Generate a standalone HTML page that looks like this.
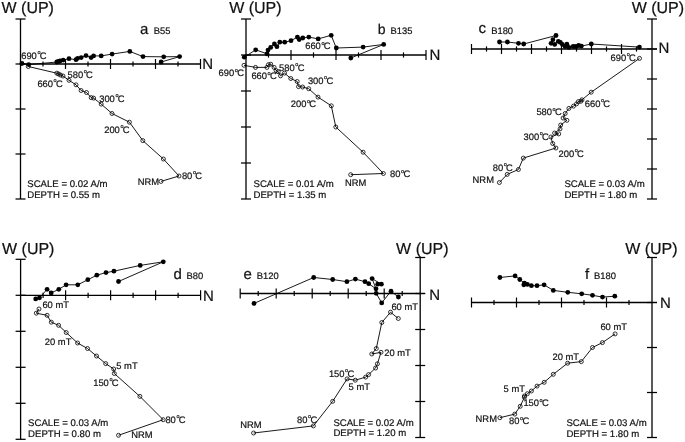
<!DOCTYPE html>
<html><head><meta charset="utf-8"><title>Zijderveld diagrams</title>
<style>
html,body{margin:0;padding:0;background:#fff;}
svg{display:block;text-rendering:geometricPrecision;font-family:'Liberation Sans', Arial, Helvetica, sans-serif;}
</style></head><body>
<svg width="685" height="442" viewBox="0 0 685 442">
<rect width="685" height="442" fill="#fff"/>
<line x1="20.5" y1="19.0" x2="20.5" y2="199.0" stroke="#000" stroke-width="1.3"/>
<line x1="15.5" y1="19.0" x2="25.5" y2="19.0" stroke="#000" stroke-width="1.25"/>
<line x1="15.5" y1="64.0" x2="25.5" y2="64.0" stroke="#000" stroke-width="1.25"/>
<line x1="15.5" y1="109.0" x2="25.5" y2="109.0" stroke="#000" stroke-width="1.25"/>
<line x1="15.5" y1="154.0" x2="25.5" y2="154.0" stroke="#000" stroke-width="1.25"/>
<line x1="15.5" y1="199.0" x2="25.5" y2="199.0" stroke="#000" stroke-width="1.25"/>
<line x1="20.5" y1="64.0" x2="200.5" y2="64.0" stroke="#000" stroke-width="1.3"/>
<line x1="43.0" y1="61.4" x2="43.0" y2="66.6" stroke="#000" stroke-width="1.2"/>
<line x1="65.5" y1="59.0" x2="65.5" y2="69.0" stroke="#000" stroke-width="1.2"/>
<line x1="88.0" y1="61.4" x2="88.0" y2="66.6" stroke="#000" stroke-width="1.2"/>
<line x1="110.5" y1="59.0" x2="110.5" y2="69.0" stroke="#000" stroke-width="1.2"/>
<line x1="133.0" y1="61.4" x2="133.0" y2="66.6" stroke="#000" stroke-width="1.2"/>
<line x1="155.5" y1="59.0" x2="155.5" y2="69.0" stroke="#000" stroke-width="1.2"/>
<line x1="178.0" y1="61.4" x2="178.0" y2="66.6" stroke="#000" stroke-width="1.2"/>
<line x1="200.5" y1="59.0" x2="200.5" y2="69.0" stroke="#000" stroke-width="1.2"/>
<text x="1.5" y="13.2" font-size="16" text-anchor="start" fill="#111" stroke="#111" stroke-width="0.2">W (UP)</text>
<text x="202.3" y="69.3" font-size="15" text-anchor="start" fill="#111" stroke="#111" stroke-width="0.2">N</text>
<text x="140.0" y="33.5" font-size="15" text-anchor="start" fill="#111" stroke="#111" stroke-width="0.2">a</text>
<text x="153.8" y="33.7" font-size="9.4" text-anchor="start" fill="#111" stroke="#111" stroke-width="0.2">B55</text>
<polyline points="161.1,62.0 179.6,56.6 163.7,56.8 143.0,56.6 129.8,51.4 112.1,54.1 101.2,55.9 93.6,55.9 91.1,57.6 86.0,55.6 81.2,57.6 77.6,58.3 76.0,59.7 69.0,58.7 63.2,60.1 60.0,61.0 58.5,61.5 56.8,62.0 28.7,64.6 21.9,63.5" fill="none" stroke="#000" stroke-width="0.9"/>
<circle cx="161.1" cy="62.0" r="2.4" fill="#000"/>
<circle cx="179.6" cy="56.6" r="2.4" fill="#000"/>
<circle cx="163.7" cy="56.8" r="2.4" fill="#000"/>
<circle cx="143.0" cy="56.6" r="2.4" fill="#000"/>
<circle cx="129.8" cy="51.4" r="2.4" fill="#000"/>
<circle cx="112.1" cy="54.1" r="2.4" fill="#000"/>
<circle cx="101.2" cy="55.9" r="2.4" fill="#000"/>
<circle cx="93.6" cy="55.9" r="2.4" fill="#000"/>
<circle cx="91.1" cy="57.6" r="2.4" fill="#000"/>
<circle cx="86.0" cy="55.6" r="2.4" fill="#000"/>
<circle cx="81.2" cy="57.6" r="2.4" fill="#000"/>
<circle cx="77.6" cy="58.3" r="2.4" fill="#000"/>
<circle cx="76.0" cy="59.7" r="2.4" fill="#000"/>
<circle cx="69.0" cy="58.7" r="2.4" fill="#000"/>
<circle cx="63.2" cy="60.1" r="2.4" fill="#000"/>
<circle cx="60.0" cy="61.0" r="2.4" fill="#000"/>
<circle cx="58.5" cy="61.5" r="2.4" fill="#000"/>
<circle cx="56.8" cy="62.0" r="2.4" fill="#000"/>
<circle cx="28.7" cy="64.6" r="2.4" fill="#000"/>
<circle cx="21.9" cy="63.5" r="2.4" fill="#000"/>
<polyline points="161.0,181.4 179.0,176.0 163.4,159.0 142.8,140.6 129.4,122.2 112.0,113.5 101.2,104.1 93.6,98.1 91.2,97.6 86.5,92.5 81.1,90.5 76.0,84.8 69.0,80.3 63.0,76.0 60.5,75.0 58.5,74.0 56.8,73.2 28.3,66.5" fill="none" stroke="#000" stroke-width="0.9"/>
<circle cx="161.0" cy="181.4" r="2.0" fill="none" stroke="#000" stroke-width="0.8"/>
<circle cx="179.0" cy="176.0" r="2.0" fill="none" stroke="#000" stroke-width="0.8"/>
<circle cx="163.4" cy="159.0" r="2.0" fill="none" stroke="#000" stroke-width="0.8"/>
<circle cx="142.8" cy="140.6" r="2.0" fill="none" stroke="#000" stroke-width="0.8"/>
<circle cx="129.4" cy="122.2" r="2.0" fill="none" stroke="#000" stroke-width="0.8"/>
<circle cx="112.0" cy="113.5" r="2.0" fill="none" stroke="#000" stroke-width="0.8"/>
<circle cx="101.2" cy="104.1" r="2.0" fill="none" stroke="#000" stroke-width="0.8"/>
<circle cx="93.6" cy="98.1" r="2.0" fill="none" stroke="#000" stroke-width="0.8"/>
<circle cx="91.2" cy="97.6" r="2.0" fill="none" stroke="#000" stroke-width="0.8"/>
<circle cx="86.5" cy="92.5" r="2.0" fill="none" stroke="#000" stroke-width="0.8"/>
<circle cx="81.1" cy="90.5" r="2.0" fill="none" stroke="#000" stroke-width="0.8"/>
<circle cx="76.0" cy="84.8" r="2.0" fill="none" stroke="#000" stroke-width="0.8"/>
<circle cx="69.0" cy="80.3" r="2.0" fill="none" stroke="#000" stroke-width="0.8"/>
<circle cx="63.0" cy="76.0" r="2.0" fill="none" stroke="#000" stroke-width="0.8"/>
<circle cx="60.5" cy="75.0" r="2.0" fill="none" stroke="#000" stroke-width="0.8"/>
<circle cx="58.5" cy="74.0" r="2.0" fill="none" stroke="#000" stroke-width="0.8"/>
<circle cx="56.8" cy="73.2" r="2.0" fill="none" stroke="#000" stroke-width="0.8"/>
<circle cx="28.3" cy="66.5" r="2.0" fill="none" stroke="#000" stroke-width="0.8"/>
<text x="21.2" y="58.5" font-size="9.4" text-anchor="start" fill="#111" stroke="#111" stroke-width="0.2">690<tspan font-size="5.45" dx="0.55" dy="-4.51" stroke-width="0.2">o</tspan><tspan dx="-0.7" dy="4.51">C</tspan></text>
<text x="37.4" y="87.0" font-size="9.4" text-anchor="start" fill="#111" stroke="#111" stroke-width="0.2">660<tspan font-size="5.45" dx="0.55" dy="-4.51" stroke-width="0.2">o</tspan><tspan dx="-0.7" dy="4.51">C</tspan></text>
<text x="67.5" y="77.9" font-size="9.4" text-anchor="start" fill="#111" stroke="#111" stroke-width="0.2">580<tspan font-size="5.45" dx="0.55" dy="-4.51" stroke-width="0.2">o</tspan><tspan dx="-0.7" dy="4.51">C</tspan></text>
<text x="99.2" y="101.9" font-size="9.4" text-anchor="start" fill="#111" stroke="#111" stroke-width="0.2">300<tspan font-size="5.45" dx="0.55" dy="-4.51" stroke-width="0.2">o</tspan><tspan dx="-0.7" dy="4.51">C</tspan></text>
<text x="104.2" y="132.7" font-size="9.4" text-anchor="start" fill="#111" stroke="#111" stroke-width="0.2">200<tspan font-size="5.45" dx="0.55" dy="-4.51" stroke-width="0.2">o</tspan><tspan dx="-0.7" dy="4.51">C</tspan></text>
<text x="181.9" y="178.7" font-size="9.4" text-anchor="start" fill="#111" stroke="#111" stroke-width="0.2">80<tspan font-size="5.45" dx="0.55" dy="-4.51" stroke-width="0.2">o</tspan><tspan dx="-0.7" dy="4.51">C</tspan></text>
<text x="137.7" y="184.9" font-size="9.4" text-anchor="start" fill="#111" stroke="#111" stroke-width="0.2">NRM</text>
<text x="27.3" y="186.8" font-size="9.6" text-anchor="start" fill="#111" stroke="#111" stroke-width="0.2">SCALE = 0.02 A/m</text>
<text x="27.3" y="197.6" font-size="9.6" text-anchor="start" fill="#111" stroke="#111" stroke-width="0.2">DEPTH = 0.55 m</text>
<line x1="246.0" y1="19.0" x2="246.0" y2="199.0" stroke="#000" stroke-width="1.3"/>
<line x1="241.0" y1="19.0" x2="251.0" y2="19.0" stroke="#000" stroke-width="1.25"/>
<line x1="241.0" y1="55.0" x2="251.0" y2="55.0" stroke="#000" stroke-width="1.25"/>
<line x1="241.0" y1="91.0" x2="251.0" y2="91.0" stroke="#000" stroke-width="1.25"/>
<line x1="241.0" y1="127.0" x2="251.0" y2="127.0" stroke="#000" stroke-width="1.25"/>
<line x1="241.0" y1="163.0" x2="251.0" y2="163.0" stroke="#000" stroke-width="1.25"/>
<line x1="241.0" y1="199.0" x2="251.0" y2="199.0" stroke="#000" stroke-width="1.25"/>
<line x1="246.0" y1="55.0" x2="426.0" y2="55.0" stroke="#000" stroke-width="1.3"/>
<line x1="268.5" y1="52.4" x2="268.5" y2="57.6" stroke="#000" stroke-width="1.2"/>
<line x1="291.0" y1="50.0" x2="291.0" y2="60.0" stroke="#000" stroke-width="1.2"/>
<line x1="313.5" y1="52.4" x2="313.5" y2="57.6" stroke="#000" stroke-width="1.2"/>
<line x1="336.0" y1="50.0" x2="336.0" y2="60.0" stroke="#000" stroke-width="1.2"/>
<line x1="358.5" y1="52.4" x2="358.5" y2="57.6" stroke="#000" stroke-width="1.2"/>
<line x1="381.0" y1="50.0" x2="381.0" y2="60.0" stroke="#000" stroke-width="1.2"/>
<line x1="403.5" y1="52.4" x2="403.5" y2="57.6" stroke="#000" stroke-width="1.2"/>
<line x1="426.0" y1="50.0" x2="426.0" y2="60.0" stroke="#000" stroke-width="1.2"/>
<text x="229.2" y="13.2" font-size="16" text-anchor="start" fill="#111" stroke="#111" stroke-width="0.2">W (UP)</text>
<text x="429.5" y="59.9" font-size="15" text-anchor="start" fill="#111" stroke="#111" stroke-width="0.2">N</text>
<text x="377.7" y="33.6" font-size="14" text-anchor="start" fill="#111" stroke="#111" stroke-width="0.2">b</text>
<text x="390.6" y="33.9" font-size="9.4" text-anchor="start" fill="#111" stroke="#111" stroke-width="0.2">B135</text>
<polyline points="350.8,58.0 383.7,44.4 363.1,47.1 336.3,48.0 331.2,35.3 318.2,38.9 308.8,37.1 302.8,38.0 299.2,39.5 297.4,37.1 291.0,40.7 284.7,42.2 279.8,42.2 276.9,46.7 274.4,44.0 270.7,47.4 268.0,50.1 267.0,53.8 255.7,49.8 244.3,57.2" fill="none" stroke="#000" stroke-width="0.9"/>
<circle cx="350.8" cy="58.0" r="2.4" fill="#000"/>
<circle cx="383.7" cy="44.4" r="2.4" fill="#000"/>
<circle cx="363.1" cy="47.1" r="2.4" fill="#000"/>
<circle cx="336.3" cy="48.0" r="2.4" fill="#000"/>
<circle cx="331.2" cy="35.3" r="2.4" fill="#000"/>
<circle cx="318.2" cy="38.9" r="2.4" fill="#000"/>
<circle cx="308.8" cy="37.1" r="2.4" fill="#000"/>
<circle cx="302.8" cy="38.0" r="2.4" fill="#000"/>
<circle cx="299.2" cy="39.5" r="2.4" fill="#000"/>
<circle cx="297.4" cy="37.1" r="2.4" fill="#000"/>
<circle cx="291.0" cy="40.7" r="2.4" fill="#000"/>
<circle cx="284.7" cy="42.2" r="2.4" fill="#000"/>
<circle cx="279.8" cy="42.2" r="2.4" fill="#000"/>
<circle cx="276.9" cy="46.7" r="2.4" fill="#000"/>
<circle cx="274.4" cy="44.0" r="2.4" fill="#000"/>
<circle cx="270.7" cy="47.4" r="2.4" fill="#000"/>
<circle cx="268.0" cy="50.1" r="2.4" fill="#000"/>
<circle cx="267.0" cy="53.8" r="2.4" fill="#000"/>
<circle cx="255.7" cy="49.8" r="2.4" fill="#000"/>
<circle cx="244.3" cy="57.2" r="2.4" fill="#000"/>
<polyline points="350.7,174.7 383.4,173.5 363.1,152.2 335.8,127.0 331.3,105.8 318.0,97.1 308.7,88.7 302.6,87.0 298.5,86.6 297.2,81.5 290.8,78.5 284.5,73.1 280.5,75.8 278.2,71.7 276.1,70.6 274.1,67.4 270.7,64.2 268.4,64.7 266.9,67.4 255.5,67.4 244.0,65.3" fill="none" stroke="#000" stroke-width="0.9"/>
<circle cx="350.7" cy="174.7" r="2.0" fill="none" stroke="#000" stroke-width="0.8"/>
<circle cx="383.4" cy="173.5" r="2.0" fill="none" stroke="#000" stroke-width="0.8"/>
<circle cx="363.1" cy="152.2" r="2.0" fill="none" stroke="#000" stroke-width="0.8"/>
<circle cx="335.8" cy="127.0" r="2.0" fill="none" stroke="#000" stroke-width="0.8"/>
<circle cx="331.3" cy="105.8" r="2.0" fill="none" stroke="#000" stroke-width="0.8"/>
<circle cx="318.0" cy="97.1" r="2.0" fill="none" stroke="#000" stroke-width="0.8"/>
<circle cx="308.7" cy="88.7" r="2.0" fill="none" stroke="#000" stroke-width="0.8"/>
<circle cx="302.6" cy="87.0" r="2.0" fill="none" stroke="#000" stroke-width="0.8"/>
<circle cx="298.5" cy="86.6" r="2.0" fill="none" stroke="#000" stroke-width="0.8"/>
<circle cx="297.2" cy="81.5" r="2.0" fill="none" stroke="#000" stroke-width="0.8"/>
<circle cx="290.8" cy="78.5" r="2.0" fill="none" stroke="#000" stroke-width="0.8"/>
<circle cx="284.5" cy="73.1" r="2.0" fill="none" stroke="#000" stroke-width="0.8"/>
<circle cx="280.5" cy="75.8" r="2.0" fill="none" stroke="#000" stroke-width="0.8"/>
<circle cx="278.2" cy="71.7" r="2.0" fill="none" stroke="#000" stroke-width="0.8"/>
<circle cx="276.1" cy="70.6" r="2.0" fill="none" stroke="#000" stroke-width="0.8"/>
<circle cx="274.1" cy="67.4" r="2.0" fill="none" stroke="#000" stroke-width="0.8"/>
<circle cx="270.7" cy="64.2" r="2.0" fill="none" stroke="#000" stroke-width="0.8"/>
<circle cx="268.4" cy="64.7" r="2.0" fill="none" stroke="#000" stroke-width="0.8"/>
<circle cx="266.9" cy="67.4" r="2.0" fill="none" stroke="#000" stroke-width="0.8"/>
<circle cx="255.5" cy="67.4" r="2.0" fill="none" stroke="#000" stroke-width="0.8"/>
<circle cx="244.0" cy="65.3" r="2.0" fill="none" stroke="#000" stroke-width="0.8"/>
<text x="218.6" y="76.2" font-size="9.4" text-anchor="start" fill="#111" stroke="#111" stroke-width="0.2">690<tspan font-size="5.45" dx="0.55" dy="-4.51" stroke-width="0.2">o</tspan><tspan dx="-0.7" dy="4.51">C</tspan></text>
<text x="251.4" y="79.4" font-size="9.4" text-anchor="start" fill="#111" stroke="#111" stroke-width="0.2">660<tspan font-size="5.45" dx="0.55" dy="-4.51" stroke-width="0.2">o</tspan><tspan dx="-0.7" dy="4.51">C</tspan></text>
<text x="279.1" y="71.0" font-size="9.4" text-anchor="start" fill="#111" stroke="#111" stroke-width="0.2">580<tspan font-size="5.45" dx="0.55" dy="-4.51" stroke-width="0.2">o</tspan><tspan dx="-0.7" dy="4.51">C</tspan></text>
<text x="307.9" y="83.9" font-size="9.4" text-anchor="start" fill="#111" stroke="#111" stroke-width="0.2">300<tspan font-size="5.45" dx="0.55" dy="-4.51" stroke-width="0.2">o</tspan><tspan dx="-0.7" dy="4.51">C</tspan></text>
<text x="290.8" y="107.2" font-size="9.4" text-anchor="start" fill="#111" stroke="#111" stroke-width="0.2">200<tspan font-size="5.45" dx="0.55" dy="-4.51" stroke-width="0.2">o</tspan><tspan dx="-0.7" dy="4.51">C</tspan></text>
<text x="390.1" y="177.4" font-size="9.4" text-anchor="start" fill="#111" stroke="#111" stroke-width="0.2">80<tspan font-size="5.45" dx="0.55" dy="-4.51" stroke-width="0.2">o</tspan><tspan dx="-0.7" dy="4.51">C</tspan></text>
<text x="305.2" y="49.3" font-size="9.4" text-anchor="start" fill="#111" stroke="#111" stroke-width="0.2">660<tspan font-size="5.45" dx="0.55" dy="-4.51" stroke-width="0.2">o</tspan><tspan dx="-0.7" dy="4.51">C</tspan></text>
<text x="344.9" y="186.2" font-size="9.4" text-anchor="start" fill="#111" stroke="#111" stroke-width="0.2">NRM</text>
<text x="253.5" y="186.8" font-size="9.6" text-anchor="start" fill="#111" stroke="#111" stroke-width="0.2">SCALE = 0.01 A/m</text>
<text x="253.5" y="197.8" font-size="9.6" text-anchor="start" fill="#111" stroke="#111" stroke-width="0.2">DEPTH = 1.35 m</text>
<line x1="652.0" y1="19.0" x2="652.0" y2="199.0" stroke="#000" stroke-width="1.3"/>
<line x1="647.0" y1="19.0" x2="657.0" y2="19.0" stroke="#000" stroke-width="1.25"/>
<line x1="647.0" y1="49.0" x2="657.0" y2="49.0" stroke="#000" stroke-width="1.25"/>
<line x1="647.0" y1="79.0" x2="657.0" y2="79.0" stroke="#000" stroke-width="1.25"/>
<line x1="647.0" y1="109.0" x2="657.0" y2="109.0" stroke="#000" stroke-width="1.25"/>
<line x1="647.0" y1="139.0" x2="657.0" y2="139.0" stroke="#000" stroke-width="1.25"/>
<line x1="647.0" y1="169.0" x2="657.0" y2="169.0" stroke="#000" stroke-width="1.25"/>
<line x1="647.0" y1="199.0" x2="657.0" y2="199.0" stroke="#000" stroke-width="1.25"/>
<line x1="471.5" y1="49.0" x2="651.5" y2="49.0" stroke="#000" stroke-width="1.3"/>
<line x1="471.5" y1="44.0" x2="471.5" y2="54.0" stroke="#000" stroke-width="1.2"/>
<line x1="486.5" y1="46.4" x2="486.5" y2="51.6" stroke="#000" stroke-width="1.2"/>
<line x1="501.5" y1="44.0" x2="501.5" y2="54.0" stroke="#000" stroke-width="1.2"/>
<line x1="516.5" y1="46.4" x2="516.5" y2="51.6" stroke="#000" stroke-width="1.2"/>
<line x1="531.5" y1="44.0" x2="531.5" y2="54.0" stroke="#000" stroke-width="1.2"/>
<line x1="546.5" y1="46.4" x2="546.5" y2="51.6" stroke="#000" stroke-width="1.2"/>
<line x1="561.5" y1="44.0" x2="561.5" y2="54.0" stroke="#000" stroke-width="1.2"/>
<line x1="576.5" y1="46.4" x2="576.5" y2="51.6" stroke="#000" stroke-width="1.2"/>
<line x1="591.5" y1="44.0" x2="591.5" y2="54.0" stroke="#000" stroke-width="1.2"/>
<line x1="606.5" y1="46.4" x2="606.5" y2="51.6" stroke="#000" stroke-width="1.2"/>
<line x1="621.5" y1="44.0" x2="621.5" y2="54.0" stroke="#000" stroke-width="1.2"/>
<line x1="636.5" y1="46.4" x2="636.5" y2="51.6" stroke="#000" stroke-width="1.2"/>
<line x1="652.0" y1="49.0" x2="657.0" y2="49.0" stroke="#000" stroke-width="1.25"/>
<text x="631.7" y="13.0" font-size="16" text-anchor="start" fill="#111" stroke="#111" stroke-width="0.2">W (UP)</text>
<text x="658.5" y="53.4" font-size="15" text-anchor="start" fill="#111" stroke="#111" stroke-width="0.2">N</text>
<text x="478.6" y="33.1" font-size="15" text-anchor="start" fill="#111" stroke="#111" stroke-width="0.2">c</text>
<text x="491.2" y="33.6" font-size="9.4" text-anchor="start" fill="#111" stroke="#111" stroke-width="0.2">B180</text>
<polyline points="499.5,42.0 507.4,42.0 518.5,43.3 523.7,44.0 556.0,35.5 552.9,39.7 551.1,43.3 554.7,44.4 558.3,41.4 560.4,42.4 562.4,44.4 565.1,46.5 566.9,44.2 568.9,47.4 573.2,46.5 576.0,46.5 578.7,45.5 581.4,46.1 591.3,44.0 639.4,47.1" fill="none" stroke="#000" stroke-width="0.9"/>
<circle cx="499.5" cy="42.0" r="2.4" fill="#000"/>
<circle cx="507.4" cy="42.0" r="2.4" fill="#000"/>
<circle cx="518.5" cy="43.3" r="2.4" fill="#000"/>
<circle cx="523.7" cy="44.0" r="2.4" fill="#000"/>
<circle cx="556.0" cy="35.5" r="2.4" fill="#000"/>
<circle cx="552.9" cy="39.7" r="2.4" fill="#000"/>
<circle cx="551.1" cy="43.3" r="2.4" fill="#000"/>
<circle cx="554.7" cy="44.4" r="2.4" fill="#000"/>
<circle cx="558.3" cy="41.4" r="2.4" fill="#000"/>
<circle cx="560.4" cy="42.4" r="2.4" fill="#000"/>
<circle cx="562.4" cy="44.4" r="2.4" fill="#000"/>
<circle cx="565.1" cy="46.5" r="2.4" fill="#000"/>
<circle cx="566.9" cy="44.2" r="2.4" fill="#000"/>
<circle cx="568.9" cy="47.4" r="2.4" fill="#000"/>
<circle cx="573.2" cy="46.5" r="2.4" fill="#000"/>
<circle cx="576.0" cy="46.5" r="2.4" fill="#000"/>
<circle cx="578.7" cy="45.5" r="2.4" fill="#000"/>
<circle cx="581.4" cy="46.1" r="2.4" fill="#000"/>
<circle cx="591.3" cy="44.0" r="2.4" fill="#000"/>
<circle cx="639.4" cy="47.1" r="2.4" fill="#000"/>
<polyline points="499.4,182.5 507.2,174.4 518.4,169.5 523.3,158.1 555.9,148.0 552.7,143.5 550.9,137.0 558.7,133.9 554.6,133.0 560.0,128.9 560.7,125.0 566.9,120.3 563.1,118.0 565.2,113.5 568.9,108.4 573.5,106.1 576.5,103.9 578.4,101.6 580.8,101.3 582.0,99.8 591.2,92.2 639.5,58.4" fill="none" stroke="#000" stroke-width="0.9"/>
<circle cx="499.4" cy="182.5" r="2.0" fill="none" stroke="#000" stroke-width="0.8"/>
<circle cx="507.2" cy="174.4" r="2.0" fill="none" stroke="#000" stroke-width="0.8"/>
<circle cx="518.4" cy="169.5" r="2.0" fill="none" stroke="#000" stroke-width="0.8"/>
<circle cx="523.3" cy="158.1" r="2.0" fill="none" stroke="#000" stroke-width="0.8"/>
<circle cx="555.9" cy="148.0" r="2.0" fill="none" stroke="#000" stroke-width="0.8"/>
<circle cx="552.7" cy="143.5" r="2.0" fill="none" stroke="#000" stroke-width="0.8"/>
<circle cx="550.9" cy="137.0" r="2.0" fill="none" stroke="#000" stroke-width="0.8"/>
<circle cx="558.7" cy="133.9" r="2.0" fill="none" stroke="#000" stroke-width="0.8"/>
<circle cx="554.6" cy="133.0" r="2.0" fill="none" stroke="#000" stroke-width="0.8"/>
<circle cx="560.0" cy="128.9" r="2.0" fill="none" stroke="#000" stroke-width="0.8"/>
<circle cx="560.7" cy="125.0" r="2.0" fill="none" stroke="#000" stroke-width="0.8"/>
<circle cx="566.9" cy="120.3" r="2.0" fill="none" stroke="#000" stroke-width="0.8"/>
<circle cx="563.1" cy="118.0" r="2.0" fill="none" stroke="#000" stroke-width="0.8"/>
<circle cx="565.2" cy="113.5" r="2.0" fill="none" stroke="#000" stroke-width="0.8"/>
<circle cx="568.9" cy="108.4" r="2.0" fill="none" stroke="#000" stroke-width="0.8"/>
<circle cx="573.5" cy="106.1" r="2.0" fill="none" stroke="#000" stroke-width="0.8"/>
<circle cx="576.5" cy="103.9" r="2.0" fill="none" stroke="#000" stroke-width="0.8"/>
<circle cx="578.4" cy="101.6" r="2.0" fill="none" stroke="#000" stroke-width="0.8"/>
<circle cx="580.8" cy="101.3" r="2.0" fill="none" stroke="#000" stroke-width="0.8"/>
<circle cx="582.0" cy="99.8" r="2.0" fill="none" stroke="#000" stroke-width="0.8"/>
<circle cx="591.2" cy="92.2" r="2.0" fill="none" stroke="#000" stroke-width="0.8"/>
<circle cx="639.5" cy="58.4" r="2.0" fill="none" stroke="#000" stroke-width="0.8"/>
<text x="610.5" y="60.5" font-size="9.4" text-anchor="start" fill="#111" stroke="#111" stroke-width="0.2">690<tspan font-size="5.45" dx="0.55" dy="-4.51" stroke-width="0.2">o</tspan><tspan dx="-0.7" dy="4.51">C</tspan></text>
<text x="584.8" y="106.9" font-size="9.4" text-anchor="start" fill="#111" stroke="#111" stroke-width="0.2">660<tspan font-size="5.45" dx="0.55" dy="-4.51" stroke-width="0.2">o</tspan><tspan dx="-0.7" dy="4.51">C</tspan></text>
<text x="536.4" y="115.4" font-size="9.4" text-anchor="start" fill="#111" stroke="#111" stroke-width="0.2">580<tspan font-size="5.45" dx="0.55" dy="-4.51" stroke-width="0.2">o</tspan><tspan dx="-0.7" dy="4.51">C</tspan></text>
<text x="523.5" y="140.0" font-size="9.4" text-anchor="start" fill="#111" stroke="#111" stroke-width="0.2">300<tspan font-size="5.45" dx="0.55" dy="-4.51" stroke-width="0.2">o</tspan><tspan dx="-0.7" dy="4.51">C</tspan></text>
<text x="558.5" y="156.5" font-size="9.4" text-anchor="start" fill="#111" stroke="#111" stroke-width="0.2">200<tspan font-size="5.45" dx="0.55" dy="-4.51" stroke-width="0.2">o</tspan><tspan dx="-0.7" dy="4.51">C</tspan></text>
<text x="492.8" y="171.0" font-size="9.4" text-anchor="start" fill="#111" stroke="#111" stroke-width="0.2">80<tspan font-size="5.45" dx="0.55" dy="-4.51" stroke-width="0.2">o</tspan><tspan dx="-0.7" dy="4.51">C</tspan></text>
<text x="472.6" y="183.1" font-size="9.4" text-anchor="start" fill="#111" stroke="#111" stroke-width="0.2">NRM</text>
<text x="564.4" y="186.7" font-size="9.6" text-anchor="start" fill="#111" stroke="#111" stroke-width="0.2">SCALE = 0.03 A/m</text>
<text x="564.4" y="197.5" font-size="9.6" text-anchor="start" fill="#111" stroke="#111" stroke-width="0.2">DEPTH = 1.80 m</text>
<line x1="20.6" y1="259.3" x2="20.6" y2="439.3" stroke="#000" stroke-width="1.3"/>
<line x1="15.6" y1="259.3" x2="25.6" y2="259.3" stroke="#000" stroke-width="1.25"/>
<line x1="15.6" y1="295.3" x2="25.6" y2="295.3" stroke="#000" stroke-width="1.25"/>
<line x1="15.6" y1="331.3" x2="25.6" y2="331.3" stroke="#000" stroke-width="1.25"/>
<line x1="15.6" y1="367.3" x2="25.6" y2="367.3" stroke="#000" stroke-width="1.25"/>
<line x1="15.6" y1="403.3" x2="25.6" y2="403.3" stroke="#000" stroke-width="1.25"/>
<line x1="15.6" y1="439.3" x2="25.6" y2="439.3" stroke="#000" stroke-width="1.25"/>
<line x1="20.6" y1="295.3" x2="200.6" y2="295.3" stroke="#000" stroke-width="1.3"/>
<line x1="43.1" y1="292.7" x2="43.1" y2="297.9" stroke="#000" stroke-width="1.2"/>
<line x1="65.6" y1="290.3" x2="65.6" y2="300.3" stroke="#000" stroke-width="1.2"/>
<line x1="88.1" y1="292.7" x2="88.1" y2="297.9" stroke="#000" stroke-width="1.2"/>
<line x1="110.6" y1="290.3" x2="110.6" y2="300.3" stroke="#000" stroke-width="1.2"/>
<line x1="133.1" y1="292.7" x2="133.1" y2="297.9" stroke="#000" stroke-width="1.2"/>
<line x1="155.6" y1="290.3" x2="155.6" y2="300.3" stroke="#000" stroke-width="1.2"/>
<line x1="178.1" y1="292.7" x2="178.1" y2="297.9" stroke="#000" stroke-width="1.2"/>
<line x1="200.6" y1="290.3" x2="200.6" y2="300.3" stroke="#000" stroke-width="1.2"/>
<text x="2.0" y="254.2" font-size="16" text-anchor="start" fill="#111" stroke="#111" stroke-width="0.2">W (UP)</text>
<text x="203.0" y="300.5" font-size="15" text-anchor="start" fill="#111" stroke="#111" stroke-width="0.2">N</text>
<text x="173.4" y="278.8" font-size="15" text-anchor="start" fill="#111" stroke="#111" stroke-width="0.2">d</text>
<text x="186.5" y="279.0" font-size="9.4" text-anchor="start" fill="#111" stroke="#111" stroke-width="0.2">B80</text>
<polyline points="118.5,281.5 163.3,261.8 140.2,265.4 113.9,271.2 106.0,272.6 96.8,275.2 87.8,279.7 77.8,284.8 66.1,284.8 58.8,289.3 51.2,292.9 47.1,289.3 39.5,297.8 35.7,298.9" fill="none" stroke="#000" stroke-width="0.9"/>
<circle cx="118.5" cy="281.5" r="2.4" fill="#000"/>
<circle cx="163.3" cy="261.8" r="2.4" fill="#000"/>
<circle cx="140.2" cy="265.4" r="2.4" fill="#000"/>
<circle cx="113.9" cy="271.2" r="2.4" fill="#000"/>
<circle cx="106.0" cy="272.6" r="2.4" fill="#000"/>
<circle cx="96.8" cy="275.2" r="2.4" fill="#000"/>
<circle cx="87.8" cy="279.7" r="2.4" fill="#000"/>
<circle cx="77.8" cy="284.8" r="2.4" fill="#000"/>
<circle cx="66.1" cy="284.8" r="2.4" fill="#000"/>
<circle cx="58.8" cy="289.3" r="2.4" fill="#000"/>
<circle cx="51.2" cy="292.9" r="2.4" fill="#000"/>
<circle cx="47.1" cy="289.3" r="2.4" fill="#000"/>
<circle cx="39.5" cy="297.8" r="2.4" fill="#000"/>
<circle cx="35.7" cy="298.9" r="2.4" fill="#000"/>
<polyline points="118.5,435.3 163.2,419.7 139.9,396.4 114.3,373.5 113.7,369.0 105.7,363.6 96.5,356.0 87.5,348.5 77.6,343.0 66.2,332.5 58.6,325.3 51.3,322.2 47.1,315.3 36.3,313.2 39.0,309.0" fill="none" stroke="#000" stroke-width="0.9"/>
<circle cx="118.5" cy="435.3" r="2.0" fill="none" stroke="#000" stroke-width="0.8"/>
<circle cx="163.2" cy="419.7" r="2.0" fill="none" stroke="#000" stroke-width="0.8"/>
<circle cx="139.9" cy="396.4" r="2.0" fill="none" stroke="#000" stroke-width="0.8"/>
<circle cx="114.3" cy="373.5" r="2.0" fill="none" stroke="#000" stroke-width="0.8"/>
<circle cx="113.7" cy="369.0" r="2.0" fill="none" stroke="#000" stroke-width="0.8"/>
<circle cx="105.7" cy="363.6" r="2.0" fill="none" stroke="#000" stroke-width="0.8"/>
<circle cx="96.5" cy="356.0" r="2.0" fill="none" stroke="#000" stroke-width="0.8"/>
<circle cx="87.5" cy="348.5" r="2.0" fill="none" stroke="#000" stroke-width="0.8"/>
<circle cx="77.6" cy="343.0" r="2.0" fill="none" stroke="#000" stroke-width="0.8"/>
<circle cx="66.2" cy="332.5" r="2.0" fill="none" stroke="#000" stroke-width="0.8"/>
<circle cx="58.6" cy="325.3" r="2.0" fill="none" stroke="#000" stroke-width="0.8"/>
<circle cx="51.3" cy="322.2" r="2.0" fill="none" stroke="#000" stroke-width="0.8"/>
<circle cx="47.1" cy="315.3" r="2.0" fill="none" stroke="#000" stroke-width="0.8"/>
<circle cx="36.3" cy="313.2" r="2.0" fill="none" stroke="#000" stroke-width="0.8"/>
<circle cx="39.0" cy="309.0" r="2.0" fill="none" stroke="#000" stroke-width="0.8"/>
<text x="42.4" y="308.4" font-size="9.4" text-anchor="start" fill="#111" stroke="#111" stroke-width="0.2">60 mT</text>
<text x="44.8" y="344.9" font-size="9.4" text-anchor="start" fill="#111" stroke="#111" stroke-width="0.2">20 mT</text>
<text x="116.3" y="369.3" font-size="9.4" text-anchor="start" fill="#111" stroke="#111" stroke-width="0.2">5 mT</text>
<text x="93.2" y="385.6" font-size="9.4" text-anchor="start" fill="#111" stroke="#111" stroke-width="0.2">150<tspan font-size="5.45" dx="0.55" dy="-4.51" stroke-width="0.2">o</tspan><tspan dx="-0.7" dy="4.51">C</tspan></text>
<text x="165.4" y="423.0" font-size="9.4" text-anchor="start" fill="#111" stroke="#111" stroke-width="0.2">80<tspan font-size="5.45" dx="0.55" dy="-4.51" stroke-width="0.2">o</tspan><tspan dx="-0.7" dy="4.51">C</tspan></text>
<text x="131.3" y="438.0" font-size="9.4" text-anchor="start" fill="#111" stroke="#111" stroke-width="0.2">NRM</text>
<text x="28.1" y="426.1" font-size="9.6" text-anchor="start" fill="#111" stroke="#111" stroke-width="0.2">SCALE = 0.03 A/m</text>
<text x="28.1" y="436.7" font-size="9.6" text-anchor="start" fill="#111" stroke="#111" stroke-width="0.2">DEPTH = 0.80 m</text>
<line x1="420.2" y1="257.5" x2="420.2" y2="437.5" stroke="#000" stroke-width="1.3"/>
<line x1="415.2" y1="257.5" x2="425.2" y2="257.5" stroke="#000" stroke-width="1.25"/>
<line x1="415.2" y1="293.5" x2="425.2" y2="293.5" stroke="#000" stroke-width="1.25"/>
<line x1="415.2" y1="329.5" x2="425.2" y2="329.5" stroke="#000" stroke-width="1.25"/>
<line x1="415.2" y1="365.5" x2="425.2" y2="365.5" stroke="#000" stroke-width="1.25"/>
<line x1="415.2" y1="401.5" x2="425.2" y2="401.5" stroke="#000" stroke-width="1.25"/>
<line x1="415.2" y1="437.5" x2="425.2" y2="437.5" stroke="#000" stroke-width="1.25"/>
<line x1="240.2" y1="293.5" x2="420.2" y2="293.5" stroke="#000" stroke-width="1.3"/>
<line x1="240.2" y1="288.5" x2="240.2" y2="298.5" stroke="#000" stroke-width="1.2"/>
<line x1="258.2" y1="290.9" x2="258.2" y2="296.1" stroke="#000" stroke-width="1.2"/>
<line x1="276.2" y1="288.5" x2="276.2" y2="298.5" stroke="#000" stroke-width="1.2"/>
<line x1="294.2" y1="290.9" x2="294.2" y2="296.1" stroke="#000" stroke-width="1.2"/>
<line x1="312.2" y1="288.5" x2="312.2" y2="298.5" stroke="#000" stroke-width="1.2"/>
<line x1="330.2" y1="290.9" x2="330.2" y2="296.1" stroke="#000" stroke-width="1.2"/>
<line x1="348.2" y1="288.5" x2="348.2" y2="298.5" stroke="#000" stroke-width="1.2"/>
<line x1="366.2" y1="290.9" x2="366.2" y2="296.1" stroke="#000" stroke-width="1.2"/>
<line x1="384.2" y1="288.5" x2="384.2" y2="298.5" stroke="#000" stroke-width="1.2"/>
<line x1="402.2" y1="290.9" x2="402.2" y2="296.1" stroke="#000" stroke-width="1.2"/>
<line x1="420.2" y1="293.5" x2="425.2" y2="293.5" stroke="#000" stroke-width="1.25"/>
<text x="396.1" y="254.0" font-size="16" text-anchor="start" fill="#111" stroke="#111" stroke-width="0.2">W (UP)</text>
<text x="429.3" y="300.2" font-size="15" text-anchor="start" fill="#111" stroke="#111" stroke-width="0.2">N</text>
<text x="243.6" y="278.5" font-size="15" text-anchor="start" fill="#111" stroke="#111" stroke-width="0.2">e</text>
<text x="256.8" y="278.9" font-size="9.4" text-anchor="start" fill="#111" stroke="#111" stroke-width="0.2">B120</text>
<polyline points="254.0,303.4 313.7,277.5 332.7,279.5 346.9,281.7 355.4,279.1 365.0,281.7 368.7,283.7" fill="none" stroke="#000" stroke-width="0.9"/>
<polyline points="368.7,283.7 376.0,288.8 372.1,278.6 381.4,284.2 377.7,284.2" fill="none" stroke="#000" stroke-width="0.9"/>
<polyline points="376.0,288.8 376.2,293.3 381.7,302.9 391.0,291.2 398.4,297.0" fill="none" stroke="#000" stroke-width="0.9"/>
<circle cx="254.0" cy="303.4" r="2.4" fill="#000"/>
<circle cx="313.7" cy="277.5" r="2.4" fill="#000"/>
<circle cx="332.7" cy="279.5" r="2.4" fill="#000"/>
<circle cx="346.9" cy="281.7" r="2.4" fill="#000"/>
<circle cx="355.4" cy="279.1" r="2.4" fill="#000"/>
<circle cx="365.0" cy="281.7" r="2.4" fill="#000"/>
<circle cx="368.7" cy="283.7" r="2.4" fill="#000"/>
<circle cx="372.1" cy="278.6" r="2.4" fill="#000"/>
<circle cx="381.4" cy="284.2" r="2.4" fill="#000"/>
<circle cx="377.7" cy="284.2" r="2.4" fill="#000"/>
<circle cx="376.0" cy="288.8" r="2.4" fill="#000"/>
<circle cx="376.2" cy="293.3" r="2.4" fill="#000"/>
<circle cx="381.7" cy="302.9" r="2.4" fill="#000"/>
<circle cx="391.0" cy="291.2" r="2.4" fill="#000"/>
<circle cx="398.4" cy="297.0" r="2.4" fill="#000"/>
<polyline points="253.6,433.0 313.4,425.9 332.7,401.3 347.1,378.9 355.3,380.2 365.7,377.1 368.6,374.6 375.6,368.0 377.4,363.8 381.0,352.3 371.8,354.0 376.3,348.5 381.8,322.5 390.5,312.2 398.3,318.5" fill="none" stroke="#000" stroke-width="0.9"/>
<circle cx="253.6" cy="433.0" r="2.0" fill="none" stroke="#000" stroke-width="0.8"/>
<circle cx="313.4" cy="425.9" r="2.0" fill="none" stroke="#000" stroke-width="0.8"/>
<circle cx="332.7" cy="401.3" r="2.0" fill="none" stroke="#000" stroke-width="0.8"/>
<circle cx="347.1" cy="378.9" r="2.0" fill="none" stroke="#000" stroke-width="0.8"/>
<circle cx="355.3" cy="380.2" r="2.0" fill="none" stroke="#000" stroke-width="0.8"/>
<circle cx="365.7" cy="377.1" r="2.0" fill="none" stroke="#000" stroke-width="0.8"/>
<circle cx="368.6" cy="374.6" r="2.0" fill="none" stroke="#000" stroke-width="0.8"/>
<circle cx="375.6" cy="368.0" r="2.0" fill="none" stroke="#000" stroke-width="0.8"/>
<circle cx="377.4" cy="363.8" r="2.0" fill="none" stroke="#000" stroke-width="0.8"/>
<circle cx="381.0" cy="352.3" r="2.0" fill="none" stroke="#000" stroke-width="0.8"/>
<circle cx="371.8" cy="354.0" r="2.0" fill="none" stroke="#000" stroke-width="0.8"/>
<circle cx="376.3" cy="348.5" r="2.0" fill="none" stroke="#000" stroke-width="0.8"/>
<circle cx="381.8" cy="322.5" r="2.0" fill="none" stroke="#000" stroke-width="0.8"/>
<circle cx="390.5" cy="312.2" r="2.0" fill="none" stroke="#000" stroke-width="0.8"/>
<circle cx="398.3" cy="318.5" r="2.0" fill="none" stroke="#000" stroke-width="0.8"/>
<text x="391.4" y="309.9" font-size="9.4" text-anchor="start" fill="#111" stroke="#111" stroke-width="0.2">60 mT</text>
<text x="384.2" y="356.2" font-size="9.4" text-anchor="start" fill="#111" stroke="#111" stroke-width="0.2">20 mT</text>
<text x="348.6" y="389.9" font-size="9.4" text-anchor="start" fill="#111" stroke="#111" stroke-width="0.2">5 mT</text>
<text x="328.9" y="376.6" font-size="9.4" text-anchor="start" fill="#111" stroke="#111" stroke-width="0.2">150<tspan font-size="5.45" dx="0.55" dy="-4.51" stroke-width="0.2">o</tspan><tspan dx="-0.7" dy="4.51">C</tspan></text>
<text x="297.1" y="422.5" font-size="9.4" text-anchor="start" fill="#111" stroke="#111" stroke-width="0.2">80<tspan font-size="5.45" dx="0.55" dy="-4.51" stroke-width="0.2">o</tspan><tspan dx="-0.7" dy="4.51">C</tspan></text>
<text x="240.2" y="427.7" font-size="9.4" text-anchor="start" fill="#111" stroke="#111" stroke-width="0.2">NRM</text>
<text x="333.4" y="426.0" font-size="9.6" text-anchor="start" fill="#111" stroke="#111" stroke-width="0.2">SCALE = 0.02 A/m</text>
<text x="333.4" y="436.4" font-size="9.6" text-anchor="start" fill="#111" stroke="#111" stroke-width="0.2">DEPTH = 1.20 m</text>
<line x1="652.0" y1="257.5" x2="652.0" y2="437.5" stroke="#000" stroke-width="1.3"/>
<line x1="647.0" y1="257.5" x2="657.0" y2="257.5" stroke="#000" stroke-width="1.25"/>
<line x1="647.0" y1="302.5" x2="657.0" y2="302.5" stroke="#000" stroke-width="1.25"/>
<line x1="647.0" y1="347.5" x2="657.0" y2="347.5" stroke="#000" stroke-width="1.25"/>
<line x1="647.0" y1="392.5" x2="657.0" y2="392.5" stroke="#000" stroke-width="1.25"/>
<line x1="647.0" y1="437.5" x2="657.0" y2="437.5" stroke="#000" stroke-width="1.25"/>
<line x1="471.5" y1="302.5" x2="651.5" y2="302.5" stroke="#000" stroke-width="1.3"/>
<line x1="471.5" y1="297.5" x2="471.5" y2="307.5" stroke="#000" stroke-width="1.2"/>
<line x1="494.0" y1="299.9" x2="494.0" y2="305.1" stroke="#000" stroke-width="1.2"/>
<line x1="516.5" y1="297.5" x2="516.5" y2="307.5" stroke="#000" stroke-width="1.2"/>
<line x1="539.0" y1="299.9" x2="539.0" y2="305.1" stroke="#000" stroke-width="1.2"/>
<line x1="561.5" y1="297.5" x2="561.5" y2="307.5" stroke="#000" stroke-width="1.2"/>
<line x1="584.0" y1="299.9" x2="584.0" y2="305.1" stroke="#000" stroke-width="1.2"/>
<line x1="606.5" y1="297.5" x2="606.5" y2="307.5" stroke="#000" stroke-width="1.2"/>
<line x1="629.0" y1="299.9" x2="629.0" y2="305.1" stroke="#000" stroke-width="1.2"/>
<line x1="652.0" y1="302.5" x2="657.0" y2="302.5" stroke="#000" stroke-width="1.25"/>
<text x="625.2" y="254.0" font-size="16" text-anchor="start" fill="#111" stroke="#111" stroke-width="0.2">W (UP)</text>
<text x="660.0" y="307.8" font-size="15" text-anchor="start" fill="#111" stroke="#111" stroke-width="0.2">N</text>
<text x="584.9" y="279.0" font-size="15" text-anchor="start" fill="#111" stroke="#111" stroke-width="0.2">f</text>
<text x="594.0" y="279.0" font-size="9.4" text-anchor="start" fill="#111" stroke="#111" stroke-width="0.2">B180</text>
<polyline points="499.9,277.5 515.1,275.9 519.8,279.5 524.4,283.1 523.8,284.8 527.4,284.4 531.4,285.7 537.0,285.7 544.1,284.8 553.3,290.4 567.8,292.3 581.7,293.8 592.5,295.3 602.5,297.1 614.8,296.2" fill="none" stroke="#000" stroke-width="0.9"/>
<circle cx="499.9" cy="277.5" r="2.4" fill="#000"/>
<circle cx="515.1" cy="275.9" r="2.4" fill="#000"/>
<circle cx="519.8" cy="279.5" r="2.4" fill="#000"/>
<circle cx="524.4" cy="283.1" r="2.4" fill="#000"/>
<circle cx="523.8" cy="284.8" r="2.4" fill="#000"/>
<circle cx="527.4" cy="284.4" r="2.4" fill="#000"/>
<circle cx="531.4" cy="285.7" r="2.4" fill="#000"/>
<circle cx="537.0" cy="285.7" r="2.4" fill="#000"/>
<circle cx="544.1" cy="284.8" r="2.4" fill="#000"/>
<circle cx="553.3" cy="290.4" r="2.4" fill="#000"/>
<circle cx="567.8" cy="292.3" r="2.4" fill="#000"/>
<circle cx="581.7" cy="293.8" r="2.4" fill="#000"/>
<circle cx="592.5" cy="295.3" r="2.4" fill="#000"/>
<circle cx="602.5" cy="297.1" r="2.4" fill="#000"/>
<circle cx="614.8" cy="296.2" r="2.4" fill="#000"/>
<polyline points="499.9,417.7 514.8,414.1 520.2,406.3 524.4,397.3 524.4,396.0 527.4,393.7 531.4,391.0 537.0,386.1 544.2,382.3 553.3,374.3 567.6,363.2 581.3,361.6 592.5,347.5 602.4,342.6 615.1,333.9" fill="none" stroke="#000" stroke-width="0.9"/>
<circle cx="499.9" cy="417.7" r="2.0" fill="none" stroke="#000" stroke-width="0.8"/>
<circle cx="514.8" cy="414.1" r="2.0" fill="none" stroke="#000" stroke-width="0.8"/>
<circle cx="520.2" cy="406.3" r="2.0" fill="none" stroke="#000" stroke-width="0.8"/>
<circle cx="524.4" cy="397.3" r="2.0" fill="none" stroke="#000" stroke-width="0.8"/>
<circle cx="524.4" cy="396.0" r="2.0" fill="none" stroke="#000" stroke-width="0.8"/>
<circle cx="527.4" cy="393.7" r="2.0" fill="none" stroke="#000" stroke-width="0.8"/>
<circle cx="531.4" cy="391.0" r="2.0" fill="none" stroke="#000" stroke-width="0.8"/>
<circle cx="537.0" cy="386.1" r="2.0" fill="none" stroke="#000" stroke-width="0.8"/>
<circle cx="544.2" cy="382.3" r="2.0" fill="none" stroke="#000" stroke-width="0.8"/>
<circle cx="553.3" cy="374.3" r="2.0" fill="none" stroke="#000" stroke-width="0.8"/>
<circle cx="567.6" cy="363.2" r="2.0" fill="none" stroke="#000" stroke-width="0.8"/>
<circle cx="581.3" cy="361.6" r="2.0" fill="none" stroke="#000" stroke-width="0.8"/>
<circle cx="592.5" cy="347.5" r="2.0" fill="none" stroke="#000" stroke-width="0.8"/>
<circle cx="602.4" cy="342.6" r="2.0" fill="none" stroke="#000" stroke-width="0.8"/>
<circle cx="615.1" cy="333.9" r="2.0" fill="none" stroke="#000" stroke-width="0.8"/>
<text x="600.4" y="329.7" font-size="9.4" text-anchor="start" fill="#111" stroke="#111" stroke-width="0.2">60 mT</text>
<text x="552.5" y="360.0" font-size="9.4" text-anchor="start" fill="#111" stroke="#111" stroke-width="0.2">20 mT</text>
<text x="503.6" y="392.1" font-size="9.4" text-anchor="start" fill="#111" stroke="#111" stroke-width="0.2">5 mT</text>
<text x="523.4" y="406.2" font-size="9.4" text-anchor="start" fill="#111" stroke="#111" stroke-width="0.2">150<tspan font-size="5.45" dx="0.55" dy="-4.51" stroke-width="0.2">o</tspan><tspan dx="-0.7" dy="4.51">C</tspan></text>
<text x="509.1" y="424.1" font-size="9.4" text-anchor="start" fill="#111" stroke="#111" stroke-width="0.2">80<tspan font-size="5.45" dx="0.55" dy="-4.51" stroke-width="0.2">o</tspan><tspan dx="-0.7" dy="4.51">C</tspan></text>
<text x="475.6" y="422.3" font-size="9.4" text-anchor="start" fill="#111" stroke="#111" stroke-width="0.2">NRM</text>
<text x="566.4" y="426.0" font-size="9.6" text-anchor="start" fill="#111" stroke="#111" stroke-width="0.2">SCALE = 0.03 A/m</text>
<text x="566.4" y="436.5" font-size="9.6" text-anchor="start" fill="#111" stroke="#111" stroke-width="0.2">DEPTH = 1.80 m</text>
</svg>
</body></html>
